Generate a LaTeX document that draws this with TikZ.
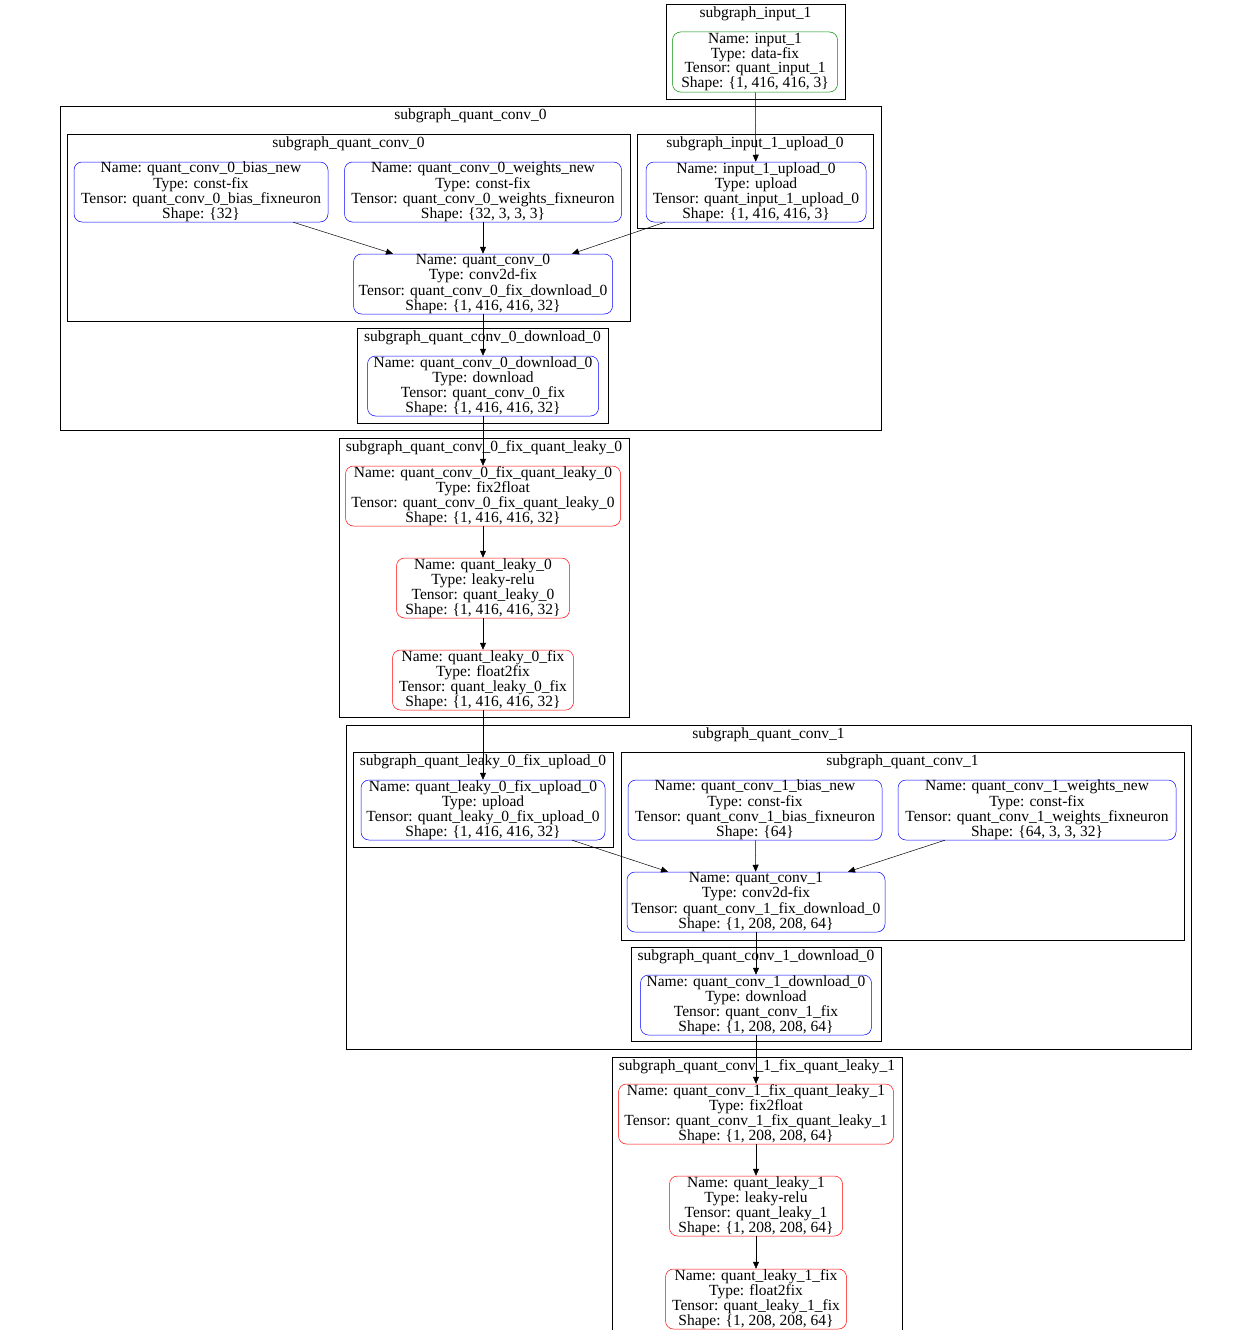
\documentclass[tikz,border=0pt]{standalone}
\usepackage{fontspec}
\setmainfont{Liberation Serif}
\usetikzlibrary{arrows.meta}
\begin{document}
\begin{tikzpicture}[x=1pt,y=-1pt,
  every node/.style={font=\fontsize{15.5}{13}\selectfont},
  opnode/.style={draw,rounded corners=8pt,align=center,inner sep=0pt,line width=0.5pt},
  gnode/.style={opnode,draw=green!55!black},
  bnode/.style={opnode,draw=blue},
  rnode/.style={opnode,draw=red},
  clusbox/.style={draw,line width=0.5pt},
  edge/.style={-{Triangle[length=7pt,width=6pt]},line width=0.5pt}]
\useasboundingbox (0,0) rectangle (1250,1330);
\newcommand\clus[6]{\draw[clusbox] (#2,#3) rectangle (#4,#5);
  \node (#1) at ({(#2+#4)/2},{#3+10}) {#6};}
\clus{c1}{666}{4}{845}{99}{subgraph\_input\_1}
\clus{c2}{60}{106}{881}{430}{subgraph\_quant\_conv\_0}
\clus{c3}{67}{134}{630}{321}{subgraph\_quant\_conv\_0}
\clus{c4}{637}{134}{873}{228}{subgraph\_input\_1\_upload\_0}
\clus{c5}{357}{328}{608}{423}{subgraph\_quant\_conv\_0\_download\_0}
\clus{c6}{339}{438}{629}{717}{subgraph\_quant\_conv\_0\_fix\_quant\_leaky\_0}
\clus{c7}{346}{725}{1191}{1049}{subgraph\_quant\_conv\_1}
\clus{c8}{353}{752}{613}{847}{subgraph\_quant\_leaky\_0\_fix\_upload\_0}
\clus{c9}{621}{752}{1184}{940}{subgraph\_quant\_conv\_1}
\clus{c10}{631}{947}{881}{1041}{subgraph\_quant\_conv\_1\_download\_0}
\clus{c11}{612}{1057}{902}{1340}{subgraph\_quant\_conv\_1\_fix\_quant\_leaky\_1}

\node[gnode,minimum width=165,minimum height=60] (in1) at (755,62) {Name: input\_1\\Type: data-fix\\Tensor: quant\_input\_1\\Shape: \{1, 416, 416, 3\}};
\node[bnode,minimum width=254,minimum height=60] (b0) at (201,192) {Name: quant\_conv\_0\_bias\_new\\Type: const-fix\\Tensor: quant\_conv\_0\_bias\_fixneuron\\Shape: \{32\}};
\node[bnode,minimum width=277,minimum height=60] (w0) at (483,192) {Name: quant\_conv\_0\_weights\_new\\Type: const-fix\\Tensor: quant\_conv\_0\_weights\_fixneuron\\Shape: \{32, 3, 3, 3\}};
\node[bnode,minimum width=220,minimum height=60] (up0) at (756,192) {Name: input\_1\_upload\_0\\Type: upload\\Tensor: quant\_input\_1\_upload\_0\\Shape: \{1, 416, 416, 3\}};
\node[bnode,minimum width=259,minimum height=60] (cv0) at (483,284) {Name: quant\_conv\_0\\Type: conv2d-fix\\Tensor: quant\_conv\_0\_fix\_download\_0\\Shape: \{1, 416, 416, 32\}};
\node[bnode,minimum width=231,minimum height=60] (dl0) at (483,386) {Name: quant\_conv\_0\_download\_0\\Type: download\\Tensor: quant\_conv\_0\_fix\\Shape: \{1, 416, 416, 32\}};
\node[rnode,minimum width=275,minimum height=60] (fq0) at (483,496) {Name: quant\_conv\_0\_fix\_quant\_leaky\_0\\Type: fix2float\\Tensor: quant\_conv\_0\_fix\_quant\_leaky\_0\\Shape: \{1, 416, 416, 32\}};
\node[rnode,minimum width=173,minimum height=60] (lk0) at (483,588) {Name: quant\_leaky\_0\\Type: leaky-relu\\Tensor: quant\_leaky\_0\\Shape: \{1, 416, 416, 32\}};
\node[rnode,minimum width=181,minimum height=60] (lf0) at (483,680) {Name: quant\_leaky\_0\_fix\\Type: float2fix\\Tensor: quant\_leaky\_0\_fix\\Shape: \{1, 416, 416, 32\}};
\node[bnode,minimum width=244,minimum height=60] (lu0) at (483,810) {Name: quant\_leaky\_0\_fix\_upload\_0\\Type: upload\\Tensor: quant\_leaky\_0\_fix\_upload\_0\\Shape: \{1, 416, 416, 32\}};
\node[bnode,minimum width=254,minimum height=60] (b1) at (755,810) {Name: quant\_conv\_1\_bias\_new\\Type: const-fix\\Tensor: quant\_conv\_1\_bias\_fixneuron\\Shape: \{64\}};
\node[bnode,minimum width=278,minimum height=60] (w1) at (1037,810) {Name: quant\_conv\_1\_weights\_new\\Type: const-fix\\Tensor: quant\_conv\_1\_weights\_fixneuron\\Shape: \{64, 3, 3, 32\}};
\node[bnode,minimum width=258,minimum height=60] (cv1) at (756,902) {Name: quant\_conv\_1\\Type: conv2d-fix\\Tensor: quant\_conv\_1\_fix\_download\_0\\Shape: \{1, 208, 208, 64\}};
\node[bnode,minimum width=231,minimum height=60] (dl1) at (756,1005) {Name: quant\_conv\_1\_download\_0\\Type: download\\Tensor: quant\_conv\_1\_fix\\Shape: \{1, 208, 208, 64\}};
\node[rnode,minimum width=275,minimum height=60] (fq1) at (756,1114) {Name: quant\_conv\_1\_fix\_quant\_leaky\_1\\Type: fix2float\\Tensor: quant\_conv\_1\_fix\_quant\_leaky\_1\\Shape: \{1, 208, 208, 64\}};
\node[rnode,minimum width=173,minimum height=60] (lk1) at (756,1206) {Name: quant\_leaky\_1\\Type: leaky-relu\\Tensor: quant\_leaky\_1\\Shape: \{1, 208, 208, 64\}};
\node[rnode,minimum width=181,minimum height=60] (lf1) at (756,1299) {Name: quant\_leaky\_1\_fix\\Type: float2fix\\Tensor: quant\_leaky\_1\_fix\\Shape: \{1, 208, 208, 64\}};

\draw[edge] (in1) -- (up0);
\draw[edge] (b0.south east) ++(-35,0) coordinate (b0e) (b0e) -- (cv0.north west -| 393,0);
\draw[edge] (w0) -- (cv0);
\draw[edge] (up0.south west) ++(19,0) coordinate (up0e) (up0e) -- (cv0.north east -| 572,0);
\draw[edge] (cv0) -- (dl0);
\draw[edge] (dl0) -- (fq0);
\draw[edge] (fq0) -- (lk0);
\draw[edge] (lk0) -- (lf0);
\draw[edge] (lf0) -- (lu0);
\draw[edge] (lu0.south east) ++(-33,0) coordinate (lu0e) (lu0e) -- (cv1.north west -| 668,0);
\draw[edge] (b1) -- (cv1);
\draw[edge] (w1.south west) ++(47,0) coordinate (w1e) (w1e) -- (cv1.north east -| 848,0);
\draw[edge] (cv1) -- (dl1);
\draw[edge] (dl1) -- (fq1);
\draw[edge] (fq1) -- (lk1);
\draw[edge] (lk1) -- (lf1);
\end{tikzpicture}
\end{document}
